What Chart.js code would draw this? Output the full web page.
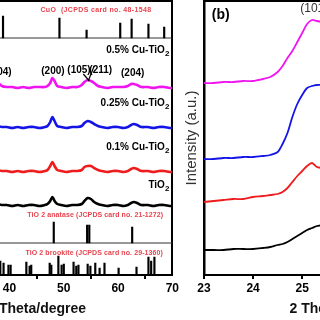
<!DOCTYPE html>
<html>
<head>
<meta charset="utf-8">
<script src="https://cdn.jsdelivr.net/npm/chart.js@4.4.1/dist/chart.umd.min.js"></script>
<style>
  html, body { margin: 0; padding: 0; width: 320px; height: 320px; overflow: hidden; background: #fff; }
  canvas { position: absolute; top: 0; }
  #chartA { left: -111px; }
  #chartB { left: 180px; }
</style>
</head>
<body>
<canvas id="chartA" width="292" height="320" style="width:292px;height:320px"></canvas>
<canvas id="chartB" width="302" height="320" style="width:302px;height:320px"></canvas>
<script>
// ---- panel (a): wide scan, 2theta in degrees, intensity in a.u. (curves stacked)
const thetaA = [38.0, 38.6, 39.5, 40.5, 41.5, 42.5, 43.5, 44.5, 45.5, 46.5, 47.0, 47.5, 47.9, 48.3, 48.8, 49.5, 50.5, 51.5, 52.5, 53.3,
    53.8, 54.4, 55.0, 55.6, 56.3, 57.0, 58.0, 59.0, 60.0, 61.0, 61.8, 62.4, 62.9, 63.5, 64.3, 65.5, 66.5, 67.5, 68.5, 69.5, 70.0];
const cu05A  = [192, 189, 188, 188, 187, 188, 187, 188, 188, 188, 189, 192, 197, 194, 189, 188, 187, 188, 188, 190,
    193, 195, 194, 192, 189, 188, 187, 188, 188, 188, 189, 191, 191, 190, 188, 188, 187, 188, 188, 187, 187];
const cu025A = [149, 148, 148, 147, 148, 147, 148, 148, 147, 148, 149, 153, 158, 154, 149, 148, 147, 148, 148, 149,
    152, 154, 153, 151, 149, 148, 147, 148, 148, 147, 148, 150, 151, 150, 148, 148, 147, 148, 148, 147, 147];
const cu01A  = [105, 104, 104, 103, 104, 103, 104, 104, 103, 104, 105, 109, 113, 109, 105, 104, 103, 104, 104, 105,
    108, 109, 109, 107, 105, 104, 103, 104, 104, 103, 104, 106, 107, 106, 104, 104, 103, 104, 104, 103, 103];
const tio2A  = [71, 70, 70, 69, 70, 69, 70, 70, 69, 70, 71, 74, 78, 74, 71, 70, 69, 70, 70, 71,
    74, 77, 76, 73, 71, 70, 69, 70, 70, 69, 70, 72, 73, 72, 70, 70, 69, 70, 70, 69, 69];

// reference cards (stick positions / relative heights)
const cuoPos = [38.8, 49.2, 54.2, 60.4, 62.5, 65.6, 68.5];
const cuoInt = [22, 20, 8, 15, 19, 14, 11];
const anatasePos = [48.15, 54.3, 54.7, 62.6];
const anataseInt = [21, 18, 18, 16];
const brookitePos = [38.3, 38.9, 39.8, 40.2, 43.1, 43.7, 44.0, 47.4, 47.7, 49.0, 49.6, 50.0, 51.8, 52.3, 52.7,
    54.4, 54.9, 55.8, 56.6, 57.5, 60.1, 63.4, 65.6, 66.1, 66.7];
const brookiteInt = [14, 12, 10, 10, 13, 9, 10, 12, 10, 19, 10, 11, 13, 9, 10, 11, 9, 12, 7, 12, 7, 8, 18, 14, 18];

// ---- panel (b): zoom on the (101) region
const thetaB = [23.0, 23.2, 23.4, 23.6, 23.8, 24.0, 24.2, 24.35, 24.5, 24.6, 24.7, 24.8, 24.9, 25.0, 25.1, 25.2, 25.3, 25.4];
const cu05B  = [192, 192, 193, 193, 194, 194, 196, 198, 203, 209, 217, 224, 233, 242, 251, 255, 254, 253];
const cu025B = [116, 116, 117, 117, 118, 118, 119, 120, 123, 131, 142, 158, 171, 180, 187, 189, 190, 190];
const cu01B  = [73, 74, 75, 76, 76, 78, 79, 80, 81, 83, 87, 93, 99, 104, 109, 112, 108, 107];
const tio2B  = [25, 25, 25, 26, 26, 26, 27, 28, 30, 31, 33, 36, 39, 42, 45, 47, 49, 50];

const xTicksA = [20, 30, 40, 50, 60, 70];
const xTicksB = [23, 24, 25, 26, 27, 28];

// where the card blocks sit in the stack
const cuoBase = 237;
const anataseBase = 32;

const MAGENTA = '#f014f0', BLUE = '#1414e6', RED = '#ee1c1c', CARD_RED = '#e8444e';
const SANS = "'Liberation Sans', Arial, sans-serif";
const NARROW = "'Liberation Sans Narrow', 'Liberation Sans', Arial, sans-serif";

const toXY = (xs, ys) => xs.map((x, i) => ({ x: x, y: ys[i] }));
const sticks = (pos, h, base) => pos.map((x, i) => ({ x: x, y: [base, base + h[i]] }));

const curve = (label, xs, ys, color, w) => ({
    type: 'line', label: label, data: toXY(xs, ys), borderColor: color, borderWidth: w,
    pointRadius: 0, tension: 0.3, fill: false
});
const stickSet = (label, pos, h, base) => ({
    type: 'bar', label: label, data: sticks(pos, h, base), backgroundColor: '#000',
    borderWidth: 0, barThickness: 1.5, grouped: false
});
const hline = (y) => ({
    type: 'line', data: [{ x: 20, y: y }, { x: 70, y: y }], borderColor: '#333', borderWidth: 1.2, pointRadius: 0
});

// text + leader lines drawn at data coordinates
const annot = {
    id: 'annot',
    afterDraw(chart, args, opts) {
        const ctx = chart.ctx;
        const xs = chart.scales.x, ys = chart.scales.y;
        ctx.save();
        (opts.lines || []).forEach(l => {
            ctx.strokeStyle = '#000';
            ctx.lineWidth = 1.2;
            ctx.beginPath();
            ctx.moveTo(xs.getPixelForValue(l[0]), ys.getPixelForValue(l[1]));
            ctx.lineTo(xs.getPixelForValue(l[2]), ys.getPixelForValue(l[3]));
            ctx.stroke();
        });
        (opts.items || []).forEach(t => {
            const px = xs.getPixelForValue(t.x), py = ys.getPixelForValue(t.y);
            ctx.textBaseline = 'middle';
            ctx.textAlign = 'left';
            ctx.letterSpacing = t.ls || '0px';
            ctx.font = t.font;
            const w = ctx.measureText(t.text).width;
            let subW = 0;
            if (t.sub) {
                ctx.font = t.subFont;
                subW = ctx.measureText(t.sub).width;
            }
            const total = w + subW;
            const x0 = t.align === 'right' ? px - total : t.align === 'center' ? px - total / 2 : px;
            ctx.fillStyle = t.color || '#000';
            ctx.font = t.font;
            ctx.fillText(t.text, x0, py);
            if (t.sub) {
                ctx.font = t.subFont;
                ctx.fillText(t.sub, x0 + w, py + 4);
            }
        });
        ctx.restore();
    }
};

const LBL = 'bold 10px ' + SANS, SUB = 'bold 8px ' + SANS, CARD = 'bold 7px ' + SANS;

const xAxis = (min, max, ticks) => ({
    type: 'linear', position: 'bottom', min: min, max: max, offset: false,
    afterBuildTicks: (s) => { s.ticks = ticks.map(v => ({ value: v })); },
    afterFit: (s) => { s.height = 45; },
    ticks: { color: '#000', padding: 2, font: { family: NARROW, size: 12, weight: 'bold' } },
    grid: { display: true, drawOnChartArea: false, drawTicks: true, tickLength: 4, lineWidth: 2, color: '#000' },
    border: { display: true, width: 2, color: '#000' },
    title: { display: true, text: '2 Theta/degree', color: '#111', padding: { top: 0, bottom: 2 },
        font: { family: NARROW, size: 14, weight: 'bold' } }
});
const edge = (pos, size) => ({
    type: 'linear', position: pos, axis: pos === 'top' ? 'x' : 'y',
    afterFit: (s) => { if (pos === 'top') s.height = size; else s.width = size; },
    ticks: { display: false }, grid: { display: false },
    border: { display: true, width: 2, color: '#000' }
});

new Chart(document.getElementById('chartA'), {
    type: 'line',
    data: {
        datasets: [
            curve('0.5% Cu-TiO2', thetaA, cu05A, MAGENTA, 2.6),
            curve('0.25% Cu-TiO2', thetaA, cu025A, BLUE, 2.6),
            curve('0.1% Cu-TiO2', thetaA, cu01A, RED, 2.6),
            curve('TiO2', thetaA, tio2A, '#000', 2.6),
            stickSet('CuO', cuoPos, cuoInt, cuoBase),
            stickSet('anatase', anatasePos, anataseInt, anataseBase),
            stickSet('brookite', brookitePos, brookiteInt, 0),
            hline(cuoBase),
            hline(anataseBase)
        ]
    },
    options: {
        responsive: false, animation: false,
        layout: { padding: 0 },
        plugins: {
            legend: { display: false }, tooltip: { enabled: false },
            annot: {
                items: [
                    { text: 'CuO  (JCPDS card no. 48-1548', x: 45.7, y: 265, align: 'left', font: CARD, color: CARD_RED, ls: '0.35px' },
                    { text: '0.5% Cu-TiO', sub: '2', x: 69.45, y: 225, align: 'right', font: LBL, subFont: SUB },
                    { text: '(004)', x: 40.4, y: 203, align: 'right', font: LBL },
                    { text: '(200)', x: 48.0, y: 204, align: 'center', font: LBL },
                    { text: '(105)', x: 52.8, y: 205, align: 'center', font: LBL },
                    { text: '(211)', x: 56.8, y: 205, align: 'center', font: LBL },
                    { text: '(204)', x: 62.7, y: 202, align: 'center', font: LBL },
                    { text: '0.25% Cu-TiO', sub: '2', x: 69.45, y: 172, align: 'right', font: LBL, subFont: SUB },
                    { text: '0.1% Cu-TiO', sub: '2', x: 69.45, y: 128, align: 'right', font: LBL, subFont: SUB },
                    { text: 'TiO', sub: '2', x: 69.45, y: 90, align: 'right', font: LBL, subFont: SUB },
                    { text: 'TiO 2 anatase (JCPDS card no. 21-1272)', x: 55.8, y: 60, align: 'center', font: CARD, color: CARD_RED, ls: '0.1px' },
                    { text: 'TiO 2 brookite (JCPDS card no. 29-1360)', x: 55.6, y: 22, align: 'center', font: CARD, color: CARD_RED, ls: '0.1px' }
                ],
                lines: [[53.6, 201, 54.7, 194], [55.6, 209, 54.5, 194]]
            }
        },
        scales: {
            x: xAxis(20, 70, xTicksA),
            y: { type: 'linear', min: 0, max: 274, afterFit: (s) => { s.width = 12; },
                ticks: { display: false }, grid: { display: false }, border: { display: true, width: 2, color: '#000' } },
            x2: edge('top', 1),
            y2: edge('right', 8)
        }
    },
    plugins: [annot]
});

new Chart(document.getElementById('chartB'), {
    type: 'line',
    data: {
        datasets: [
            curve('0.5% Cu-TiO2', thetaB, cu05B, MAGENTA, 1.8),
            curve('0.25% Cu-TiO2', thetaB, cu025B, BLUE, 1.8),
            curve('0.1% Cu-TiO2', thetaB, cu01B, RED, 1.8),
            curve('TiO2', thetaB, tio2B, '#000', 1.8)
        ]
    },
    options: {
        responsive: false, animation: false,
        layout: { padding: 0 },
        plugins: {
            legend: { display: false }, tooltip: { enabled: false },
            annot: {
                items: [
                    { text: '(b)', x: 23.16, y: 260, align: 'left', font: 'bold 14px ' + SANS },
                    { text: '(101)', x: 24.96, y: 266, align: 'left', font: '12px ' + SANS, color: '#333' }
                ]
            }
        },
        scales: {
            x: xAxis(23, 28.5, xTicksB),
            y: { type: 'linear', min: 0, max: 274, afterFit: (s) => { s.width = 24; },
                ticks: { display: false }, grid: { display: false },
                border: { display: true, width: 2.5, color: '#000' },
                title: { display: true, text: 'Intensity (a.u.)', color: '#333', padding: { top: 3, bottom: 0 },
                    font: { family: SANS, size: 15 } } },
            x2: edge('top', 1),
            y2: edge('right', 8)
        }
    },
    plugins: [annot]
});
</script>
</body>
</html>
